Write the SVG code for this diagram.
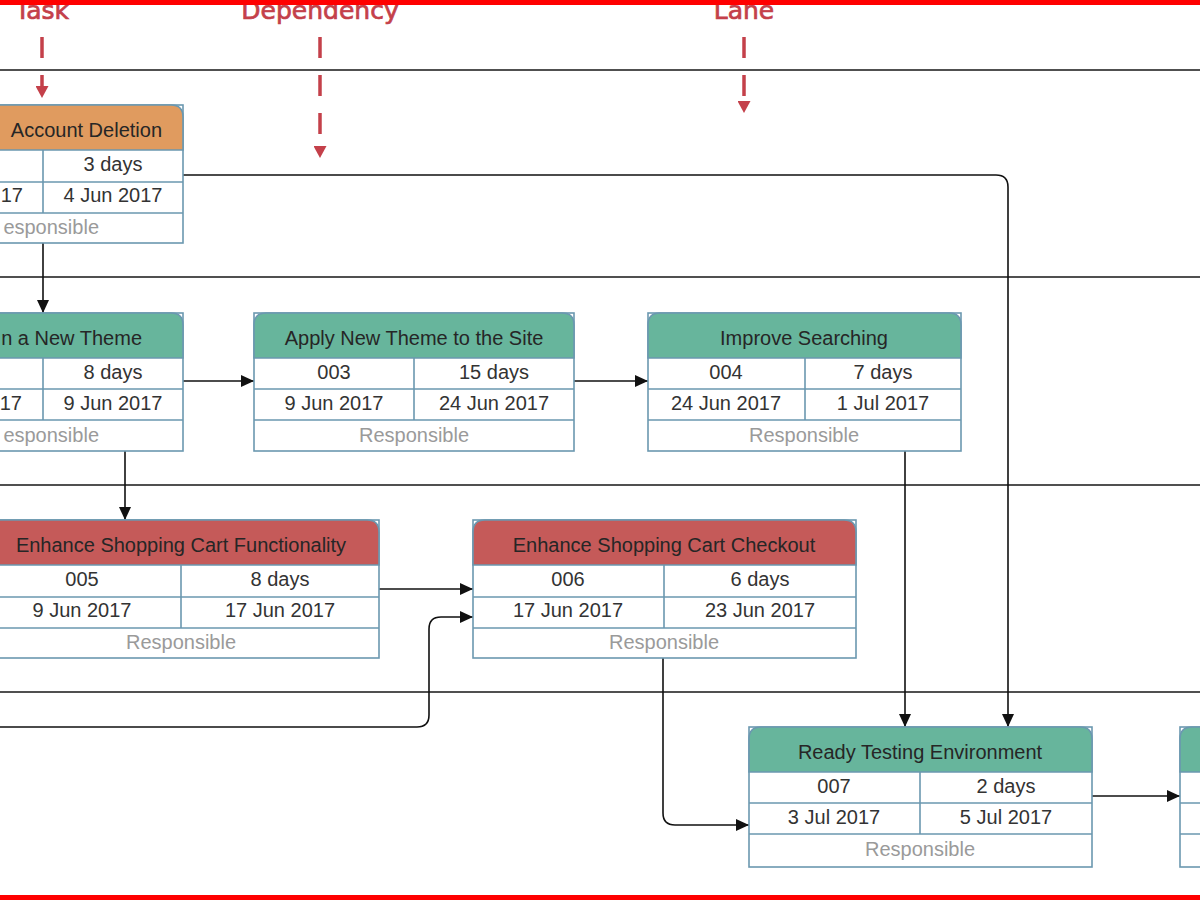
<svg xmlns="http://www.w3.org/2000/svg" width="1200" height="900" viewBox="0 0 1200 900">
<defs>
<marker id="arr" markerUnits="userSpaceOnUse" viewBox="0 0 13 12" markerWidth="13" markerHeight="12" refX="13" refY="6" orient="auto"><path d="M0,0 L13,6 L0,12 Z" fill="#111"/></marker>
<marker id="rarr" markerUnits="userSpaceOnUse" viewBox="0 0 12 13" markerWidth="12" markerHeight="13" refX="0" refY="6.5" orient="auto"><path d="M0,0 L12,6.5 L0,13 Z" fill="#c4404a"/></marker>
<style>
.lane{stroke:#505050;stroke-width:2;fill:none}
.con{stroke:#111;stroke-width:1.6;fill:none}
.hint{stroke:#c4404a;stroke-width:3.5;fill:none;stroke-dasharray:21 17}
.lbl{font-family:"DejaVu Sans",sans-serif;font-size:25px;fill:#c4404a;stroke:#c4404a;stroke-width:0.7}
.body{fill:#fff;stroke:#6b98b0;stroke-width:1.6}
.sep{stroke:#6b98b0;stroke-width:1.6;fill:none}
.h-or{fill:#e09b5f;stroke:#6b98b0;stroke-width:1.6}
.h-tl{fill:#67b59c;stroke:#6b98b0;stroke-width:1.6}
.h-rd{fill:#c55a59;stroke:#6b98b0;stroke-width:1.6}
text{font-family:"Liberation Sans",Arial,sans-serif;font-size:20px}
.t{fill:#262626;text-anchor:middle}
.c{fill:#333;text-anchor:middle}
.r{fill:#9a9a9a;text-anchor:middle}
</style>
</defs>
<rect x="0" y="0" width="1200" height="900" fill="#fff"/>
<g id="lanes">
<line class="lane" x1="0" y1="70" x2="1200" y2="70"/>
<line class="lane" x1="0" y1="277" x2="1200" y2="277"/>
<line class="lane" x1="0" y1="485" x2="1200" y2="485"/>
<line class="lane" x1="0" y1="692" x2="1200" y2="692"/>
</g>
<g id="labels">
<text class="lbl" x="42" y="19" text-anchor="middle">Task</text>
<text class="lbl" x="320" y="19" text-anchor="middle">Dependency</text>
<text class="lbl" x="744" y="19" text-anchor="middle">Lane</text>
<path class="hint" d="M42,37 V86" marker-end="url(#rarr)"/>
<path class="hint" d="M320,37 V146" marker-end="url(#rarr)"/>
<path class="hint" d="M744,37 V101" marker-end="url(#rarr)"/>
</g>
<g id="connectors">
<path class="con" d="M43,243 V313" marker-end="url(#arr)"/>
<path class="con" d="M183,175 H996 Q1008,175 1008,187 V727" marker-end="url(#arr)"/>
<path class="con" d="M183,381 H254" marker-end="url(#arr)"/>
<path class="con" d="M574,381 H648" marker-end="url(#arr)"/>
<path class="con" d="M125,451 V520" marker-end="url(#arr)"/>
<path class="con" d="M379,589 H473" marker-end="url(#arr)"/>
<path class="con" d="M-10,727 H417 Q429,727 429,715 V629 Q429,617 441,617 H473" marker-end="url(#arr)"/>
<path class="con" d="M663,658 V813 Q663,825 675,825 H749" marker-end="url(#arr)"/>
<path class="con" d="M905,451 V727" marker-end="url(#arr)"/>
<path class="con" d="M1092,796 H1180" marker-end="url(#arr)"/>
</g>
<g id="node-account-deletion">
<rect class="body" x="-97" y="105" width="280" height="138"/>
<path class="h-or" d="M-97,150 V117 Q-97,105 -85,105 H171 Q183,105 183,117 V150 Z"/>
<path class="sep" d="M-97,182 H183 M-97,213 H183 M43,150 V213"/>
<text class="t" x="162" y="137" style="text-anchor:end">Account Deletion</text>
<text class="c" x="113" y="171">3 days</text>
<text class="c" x="23" y="202" style="text-anchor:end">17</text>
<text class="c" x="113" y="202">4 Jun 2017</text>
<text class="r" x="99" y="234" style="text-anchor:end">esponsible</text>
</g>
<g id="node-new-theme">
<rect class="body" x="-97" y="313" width="280" height="138"/>
<path class="h-tl" d="M-97,358 V325 Q-97,313 -85,313 H171 Q183,313 183,325 V358 Z"/>
<path class="sep" d="M-97,389 H183 M-97,420 H183 M43,358 V420"/>
<text class="t" x="142" y="345" style="text-anchor:end">n a New Theme</text>
<text class="c" x="113" y="379">8 days</text>
<text class="c" x="22" y="410" style="text-anchor:end">17</text>
<text class="c" x="113" y="410">9 Jun 2017</text>
<text class="r" x="99" y="442" style="text-anchor:end">esponsible</text>
</g>
<g id="node-apply-theme">
<rect class="body" x="254" y="313" width="320" height="138"/>
<path class="h-tl" d="M254,358 V325 Q254,313 266,313 H562 Q574,313 574,325 V358 Z"/>
<path class="sep" d="M254,389 H574 M254,420 H574 M414,358 V420"/>
<text class="t" x="414" y="345">Apply New Theme to the Site</text>
<text class="c" x="334" y="379">003</text>
<text class="c" x="494" y="379">15 days</text>
<text class="c" x="334" y="410">9 Jun 2017</text>
<text class="c" x="494" y="410">24 Jun 2017</text>
<text class="r" x="414" y="442">Responsible</text>
</g>
<g id="node-improve-searching">
<rect class="body" x="648" y="313" width="313" height="138"/>
<path class="h-tl" d="M648,358 V325 Q648,313 660,313 H949 Q961,313 961,325 V358 Z"/>
<path class="sep" d="M648,389 H961 M648,420 H961 M805,358 V420"/>
<text class="t" x="804" y="345">Improve Searching</text>
<text class="c" x="726" y="379">004</text>
<text class="c" x="883" y="379">7 days</text>
<text class="c" x="726" y="410">24 Jun 2017</text>
<text class="c" x="883" y="410">1 Jul 2017</text>
<text class="r" x="804" y="442">Responsible</text>
</g>
<g id="node-cart-functionality">
<rect class="body" x="-17" y="520" width="396" height="138"/>
<path class="h-rd" d="M-17,565 V532 Q-17,520 -5,520 H367 Q379,520 379,532 V565 Z"/>
<path class="sep" d="M-17,597 H379 M-17,628 H379 M181,565 V628"/>
<text class="t" x="181" y="552">Enhance Shopping Cart Functionality</text>
<text class="c" x="82" y="586">005</text>
<text class="c" x="280" y="586">8 days</text>
<text class="c" x="82" y="617">9 Jun 2017</text>
<text class="c" x="280" y="617">17 Jun 2017</text>
<text class="r" x="181" y="649">Responsible</text>
</g>
<g id="node-cart-checkout">
<rect class="body" x="473" y="520" width="383" height="138"/>
<path class="h-rd" d="M473,565 V532 Q473,520 485,520 H844 Q856,520 856,532 V565 Z"/>
<path class="sep" d="M473,597 H856 M473,628 H856 M664,565 V628"/>
<text class="t" x="664" y="552">Enhance Shopping Cart Checkout</text>
<text class="c" x="568" y="586">006</text>
<text class="c" x="760" y="586">6 days</text>
<text class="c" x="568" y="617">17 Jun 2017</text>
<text class="c" x="760" y="617">23 Jun 2017</text>
<text class="r" x="664" y="649">Responsible</text>
</g>
<g id="node-testing-env">
<rect class="body" x="749" y="727" width="343" height="140"/>
<path class="h-tl" d="M749,772 V739 Q749,727 761,727 H1080 Q1092,727 1092,739 V772 Z"/>
<path class="sep" d="M749,803 H1092 M749,834 H1092 M920,772 V834"/>
<text class="t" x="920" y="759">Ready Testing Environment</text>
<text class="c" x="834" y="793">007</text>
<text class="c" x="1006" y="793">2 days</text>
<text class="c" x="834" y="824">3 Jul 2017</text>
<text class="c" x="1006" y="824">5 Jul 2017</text>
<text class="r" x="920" y="856">Responsible</text>
</g>
<g id="node-next">
<rect class="body" x="1180" y="727" width="343" height="140"/>
<path class="h-tl" d="M1180,772 V739 Q1180,727 1192,727 H1511 Q1523,727 1523,739 V772 Z"/>
<path class="sep" d="M1180,803 H1523 M1180,834 H1523"/>
</g>
<g id="frame">
<rect x="0" y="0" width="1200" height="5" fill="#ff0000"/>
<rect x="0" y="895" width="1200" height="5" fill="#ff0000"/>
</g>
</svg>
